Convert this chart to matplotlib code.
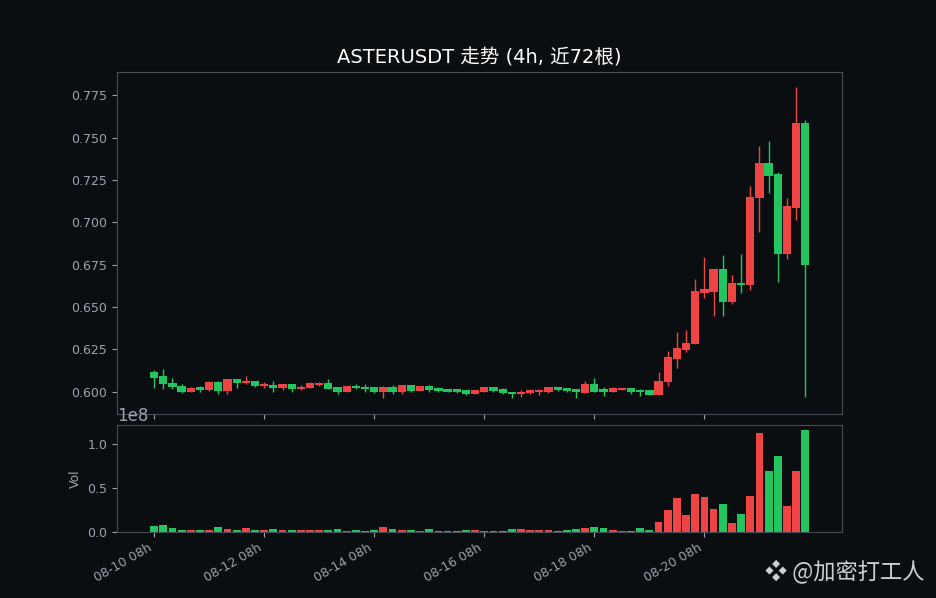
"""ASTERUSDT 4h candles with volume"""

from datetime import datetime, timedelta
import numpy as np
import matplotlib
matplotlib.use("Agg")
import matplotlib.pyplot as plt
import matplotlib.dates as mdates
from matplotlib.ticker import MultipleLocator

# 72 candles, 4h each
start = datetime(2025, 8, 10, 8)
n_candles = 72
opens = [0.6118, 0.6094, 0.6053, 0.6035, 0.5996, 0.6024, 0.6008, 0.6059, 0.6002, 0.6071,
         0.6049, 0.6065, 0.6031, 0.6041, 0.6019, 0.6047, 0.6014, 0.6019, 0.6041, 0.6053,
         0.6024, 0.5996, 0.6035, 0.6029, 0.6024, 0.5996, 0.6024, 0.5996, 0.6041, 0.6002,
         0.6035, 0.6018, 0.6012, 0.6012, 0.6006, 0.5984, 0.5996, 0.6024, 0.6012, 0.6000,
         0.5984, 0.5990, 0.5996, 0.5996, 0.6029, 0.6018, 0.6012, 0.5990, 0.6047, 0.6012,
         0.5996, 0.6008, 0.6022, 0.6006, 0.6006, 0.5982, 0.6055, 0.6194, 0.6247, 0.6279,
         0.6585, 0.6591, 0.6725, 0.6532, 0.6642, 0.6632, 0.7145, 0.7349, 0.7285, 0.6815,
         0.7086, 0.7585]
highs = [0.6130, 0.6136, 0.6077, 0.6047, 0.6028, 0.6035, 0.6060, 0.6060, 0.6075, 0.6071,
         0.6094, 0.6065, 0.6059, 0.6065, 0.6047, 0.6047, 0.6039, 0.6059, 0.6059, 0.6071,
         0.6024, 0.6035, 0.6043, 0.6043, 0.6024, 0.6031, 0.6041, 0.6041, 0.6041, 0.6035,
         0.6037, 0.6025, 0.6014, 0.6012, 0.6006, 0.6006, 0.6024, 0.6024, 0.6018, 0.6000,
         0.6006, 0.6012, 0.6012, 0.6029, 0.6029, 0.6018, 0.6012, 0.6065, 0.6077, 0.6024,
         0.6024, 0.6022, 0.6022, 0.6016, 0.6006, 0.6114, 0.6237, 0.6349, 0.6365, 0.6666,
         0.6796, 0.6725, 0.6807, 0.6689, 0.6813, 0.7214, 0.7450, 0.7479, 0.7296, 0.7143,
         0.7797, 0.7603]
lows = [0.6019, 0.6012, 0.6012, 0.5992, 0.5996, 0.5996, 0.6005, 0.5988, 0.5988, 0.6019,
        0.6043, 0.6025, 0.6019, 0.6000, 0.6006, 0.5996, 0.6008, 0.6019, 0.6031, 0.6012,
        0.5984, 0.5996, 0.6012, 0.6000, 0.5992, 0.5959, 0.5984, 0.5984, 0.6000, 0.6002,
        0.6000, 0.6000, 0.5996, 0.5992, 0.5978, 0.5984, 0.5996, 0.6000, 0.5988, 0.5961,
        0.5967, 0.5984, 0.5978, 0.5992, 0.6002, 0.5996, 0.5961, 0.5990, 0.5996, 0.5972,
        0.5996, 0.6006, 0.5988, 0.5976, 0.5982, 0.5982, 0.6035, 0.6141, 0.6232, 0.6279,
        0.6550, 0.6444, 0.6449, 0.6519, 0.6585, 0.6601, 0.6943, 0.7174, 0.6650, 0.6784,
        0.7015, 0.5966]
closes = [0.6078, 0.6043, 0.6024, 0.5996, 0.6018, 0.6008, 0.6059, 0.6002, 0.6071, 0.6051,
          0.6065, 0.6031, 0.6043, 0.6019, 0.6047, 0.6012, 0.6029, 0.6053, 0.6053, 0.6014,
          0.5996, 0.6035, 0.6019, 0.6014, 0.5996, 0.6024, 0.5996, 0.6041, 0.6002, 0.6035,
          0.6008, 0.6002, 0.6000, 0.5996, 0.5984, 0.6006, 0.6024, 0.6002, 0.5990, 0.5984,
          0.6000, 0.6006, 0.6006, 0.6029, 0.6008, 0.6002, 0.5996, 0.6047, 0.6000, 0.5996,
          0.6022, 0.6022, 0.5996, 0.5996, 0.5982, 0.6065, 0.6206, 0.6257, 0.6289, 0.6595,
          0.6603, 0.6725, 0.6532, 0.6642, 0.6632, 0.7149, 0.7349, 0.7275, 0.6815, 0.7096,
          0.7585, 0.6750]
# volume in millions
volumes_m = [6.8, 8.0, 4.5, 2.3, 2.3, 2.3, 2.3, 5.7, 3.4, 2.3,
             4.5, 2.3, 2.3, 3.4, 2.3, 2.3, 2.3, 2.3, 2.3, 2.3,
             3.4, 1.1, 2.3, 1.1, 2.3, 5.7, 3.4, 2.3, 2.3, 1.1,
             3.4, 1.1, 1.1, 1.1, 2.3, 2.3, 1.1, 1.1, 1.1, 3.4,
             3.4, 2.3, 2.3, 2.3, 1.1, 2.3, 3.4, 4.5, 5.7, 4.5,
             2.3, 1.1, 1.1, 4.5, 2.3, 11.4, 25.0, 38.6, 19.3, 43.2,
             39.8, 26.1, 31.8, 10.2, 20.5, 40.9, 112.5, 69.3, 86.4, 29.5,
             69.3, 115.9]

BG = "#0b0e11"
UP = "#ef4444"
DOWN = "#22c55e"
SPINE = "#474d57"
LABEL = "#9ca3af"


def style_axes(ax):
    ax.set_facecolor(BG)
    for sp in ax.spines.values():
        sp.set_color(SPINE)
    ax.tick_params(colors=LABEL, labelsize=9, length=3.5)


def main():
    times = [start + timedelta(hours=4 * i) for i in range(n_candles)]
    x = mdates.date2num(times)
    o = np.array(opens)
    h = np.array(highs)
    l = np.array(lows)
    c = np.array(closes)
    vol = np.array(volumes_m) * 1e6
    colors = [UP if cc >= oo else DOWN for oo, cc in zip(o, c)]
    step = 4 / 24

    fig = plt.figure(figsize=(9.36, 5.98), dpi=100, facecolor=BG)
    ax = fig.add_axes([0.125, 0.3077, 0.775, 0.572])
    axv = fig.add_axes([0.125, 0.1104, 0.775, 0.1789], sharex=ax)
    style_axes(ax)
    style_axes(axv)

    # candles
    ax.vlines(x, l, h, colors=colors, linewidth=1, zorder=2)
    body = np.maximum(np.abs(c - o), 0.0002)
    ax.bar(x, body, bottom=np.minimum(o, c), width=0.9 * step,
           color=colors, linewidth=0, zorder=3)
    ax.yaxis.set_major_locator(MultipleLocator(0.025))
    ax.tick_params(axis="x", labelbottom=False)
    ax.set_title("ASTERUSDT 走势 (4h, 近72根)", color="white", fontsize=14,
                 family=["DejaVu Sans", "Noto Sans CJK SC"], pad=6)

    # volume
    axv.bar(x, vol, width=0.85 * step, color=colors, linewidth=0)
    axv.yaxis.set_major_locator(MultipleLocator(0.5e8))
    axv.yaxis.get_offset_text().set_fontsize(12)
    axv.yaxis.get_offset_text().set_color(LABEL)
    axv.set_ylabel("Vol", color=LABEL, fontsize=9)

    axv.set_xticks(x[::12])
    axv.xaxis.set_major_formatter(mdates.DateFormatter("%m-%d %Hh"))
    plt.setp(axv.get_xticklabels(), rotation=30, ha="right")

    # watermark
    fig.text(0.988, 0.045, "❖ @加密打工人", ha="right", va="center",
             fontsize=16, color="#e5e7eb", alpha=0.9,
             family=["Noto Sans CJK SC", "DejaVu Sans"])

    fig.savefig("out.png", dpi=100, facecolor=BG)


if __name__ == '__main__':
    main()
